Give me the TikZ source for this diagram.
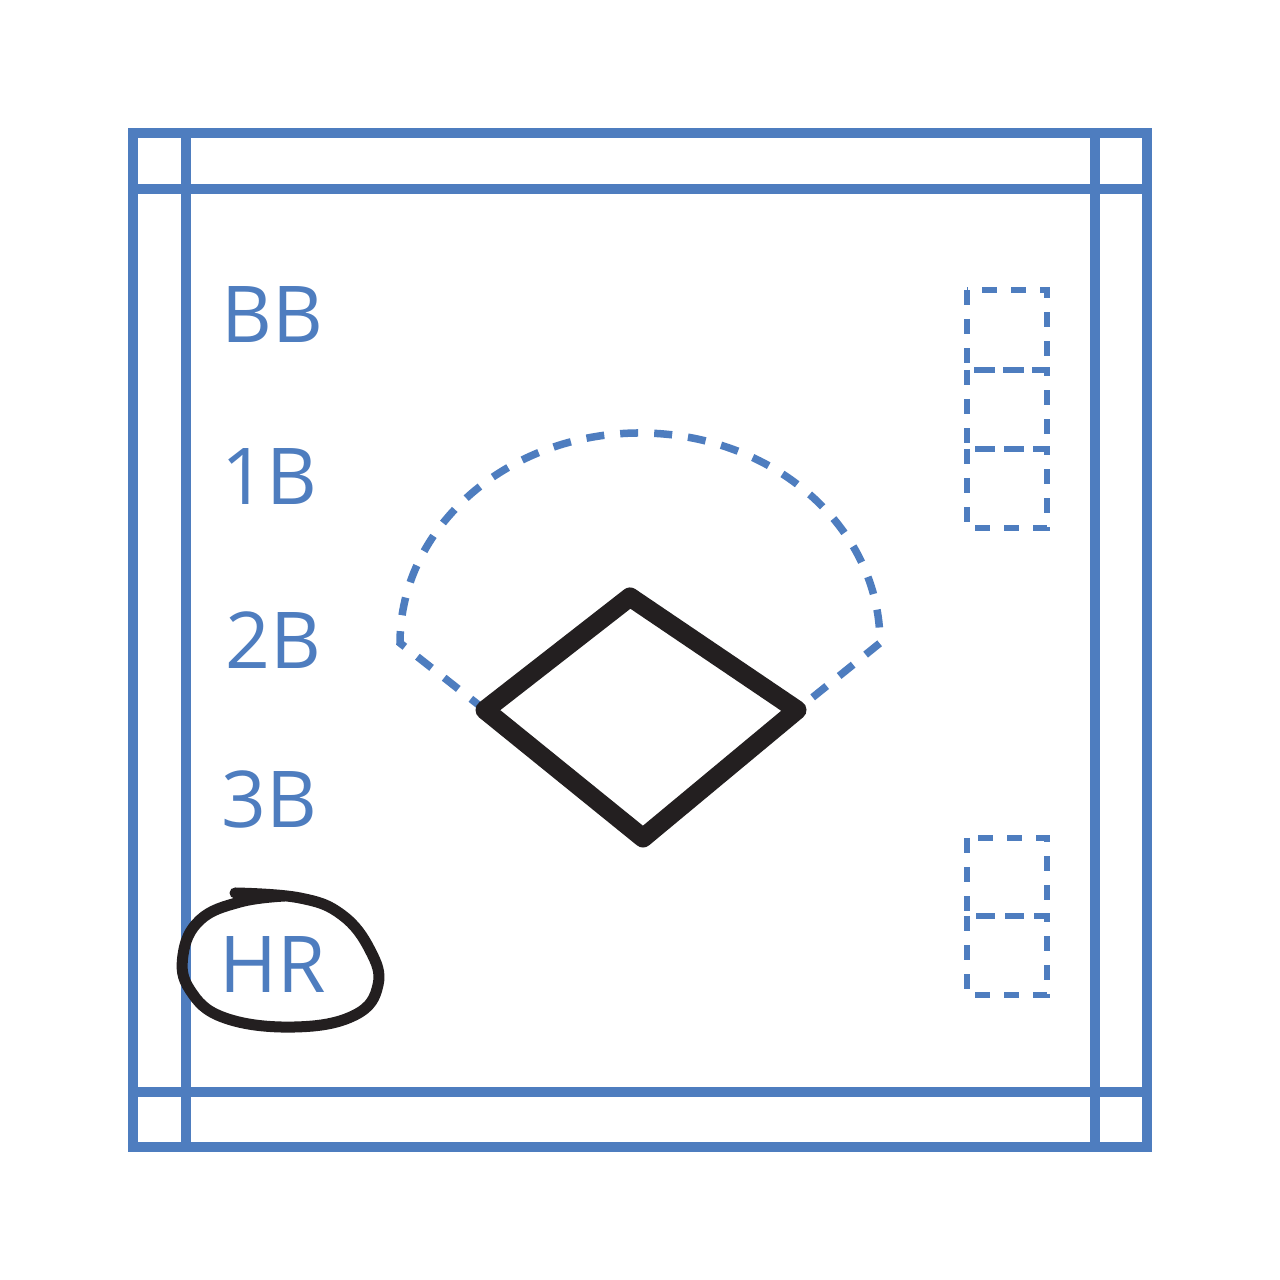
\documentclass[tikz,border=0pt]{standalone}
\usepackage{fontspec}
\setmainfont{Open Sans}
\usetikzlibrary{positioning}
\definecolor{scoreblue}{HTML}{4E7DBF}
\definecolor{penblack}{HTML}{231F20}
\tikzset{
  frameline/.style={draw=scoreblue, line width=0.1cm},
  boxdash/.style={draw=scoreblue, line width=0.06cm, dash pattern=on 0.15cm off 0.14cm},
  fandash/.style={draw=scoreblue, line width=0.075cm, dash pattern=on 0.18cm off 0.16cm},
  diamondline/.style={draw=penblack, line width=0.19cm, line join=round, line cap=round},
  ringline/.style={draw=penblack, line width=0.11cm, line cap=round},
  result/.style={text=scoreblue, font=\fontsize{22.3}{26}\selectfont, inner sep=0pt, anchor=west}
}

\begin{document}
\begin{tikzpicture}[x=0.01cm,y=0.01cm]
    \fill[white] (0,0) rectangle (1280,1280);
    \useasboundingbox (0,0) rectangle (1280,1280);
    % score box frame
    \draw[frameline] (133,133) rectangle (1147,1147);
    \foreach \x in {186, 1095}
        \draw[frameline] (\x,133) -- (\x,1147);
    \foreach \y in {188, 1091}
        \draw[frameline] (133,\y) -- (1147,\y);
    % results column
    \foreach \lbl/\nm/\y/\x in {BB/bb/965/221, 1B/one/803/221, 2B/two/640/225, 3B/three/480/221, HR/hr/315/219}
        \node[result] (\nm) at (\x,\y) {\lbl};
    % outs and runs boxes
    \foreach \ya/\yb in {990/910, 910/831, 831/752, 442/364, 364/285}
        \draw[boxdash] (967,\ya) rectangle (1047,\yb);
    % outfield line
    \coordinate (lft) at (485,570);
    \coordinate (top) at (630,683);
    \coordinate (rgt) at (797,570);
    \coordinate (bot) at (643,442);
    \draw[fandash] (lft) -- (400,637) arc[start angle=180, end angle=0, x radius=240, y radius=210] -- (rgt);
    % the diamond
    \draw[diamondline] (top) -- (rgt) -- (bot) -- (lft) -- cycle;
    % ring round the home run
    \draw[ringline] plot[smooth, tension=0.7] coordinates {(235,387) (300,382) (342,365) (370,330) (378,295) (355,265) (295,253) (225,262) (190,290) (183,325) (200,360) (240,378) (285,384)};
\end{tikzpicture}
\end{document}
